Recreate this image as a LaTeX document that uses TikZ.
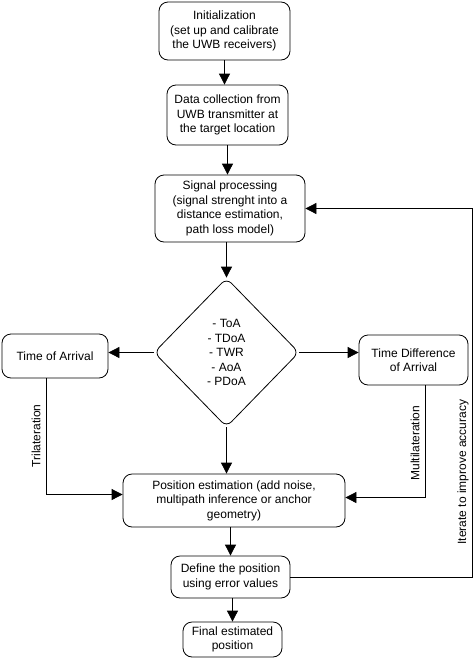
\documentclass[tikz,border=0pt]{standalone}
\usepackage{fontspec}
\setmainfont{Liberation Sans}
\usetikzlibrary{shapes.geometric,arrows.meta}
\begin{document}
\begin{tikzpicture}[
    x=1pt, y=-1pt,
    every node/.style={font=\fontsize{12}{14.5}\selectfont},
    box/.style={draw, rounded corners=9pt, align=center, inner sep=0pt, line width=0.8pt},
    decision/.style={draw, diamond, rounded corners=7pt, align=center, inner sep=0pt,
      minimum width=145pt, minimum height=149pt, line width=0.8pt},
    link/.style={-{Triangle[length=11pt,width=11pt]}, line width=0.8pt},
    sidelabel/.style={rotate=90, inner sep=1pt}
  ]
  \useasboundingbox (0,0) rectangle (474,659);
  \node[box, minimum width=131pt, minimum height=58pt] (init) at (224.5,31)
    {Initialization\\(set up and calibrate\\the UWB receivers)};
  \node[box, minimum width=121pt, minimum height=60pt] (data) at (227.5,115)
    {Data collection from\\UWB transmitter at\\the target location};
  \node[box, minimum width=150pt, minimum height=67pt] (proc) at (230,208.5)
    {Signal processing\\(signal strenght into a\\distance estimation,\\path loss model)};
  \node[decision] (meth) at (226.5,352.5)
    {- ToA\\- TDoA\\- TWR\\- AoA\\- PDoA};
  \node[box, minimum width=106pt, minimum height=44pt] (toa) at (55,356)
    {Time of Arrival};
  \node[box, minimum width=109pt, minimum height=50pt] (tdoa) at (413.5,360)
    {Time Difference\\of Arrival};
  \node[box, minimum width=222pt, minimum height=53pt] (pos) at (234,500.5)
    {Position estimation (add noise,\\multipath inference or anchor\\geometry)};
  \node[box, minimum width=119pt, minimum height=42pt] (def) at (230.5,577)
    {Define the position\\using error values};
  \node[box, minimum width=99pt, minimum height=35pt] (final) at (232.5,639.5)
    {Final estimated\\position};
  \coordinate (back) at (472,0);

  \draw[link] (init.south) -- (init.south |- data.north);
  \draw[link] (data.south) -- (data.south |- proc.north);
  \draw[link] (meth.north |- proc.south) -- (meth.north);
  \draw[link] (meth.west) -- (meth.west -| toa.east);
  \draw[link] (meth.east) -- (meth.east -| tdoa.west);
  \draw[link] (meth.south) -- (pos.north -| meth.south);
  \draw[link] ([xshift=-9pt]toa.south) |- ([yshift=6pt]pos.west);
  \draw[link] ([xshift=11.5pt]tdoa.south) |- ([yshift=3pt]pos.east);
  \draw[link] (pos.south -| def.north) -- (def.north);
  \draw[link] (def.south -| final.north) -- (final.north);
  \draw[link] (def.east) -- (def.east -| back) -- (proc.east -| back) -- (proc.east);

  \node[sidelabel] (tril) at (36,436) {Trilateration};
  \node[sidelabel] (multil) at (415,443) {Multilateration};
  \node[sidelabel] (iter) at (463,472) {Iterate to improve accuracy};
\end{tikzpicture}
\end{document}
